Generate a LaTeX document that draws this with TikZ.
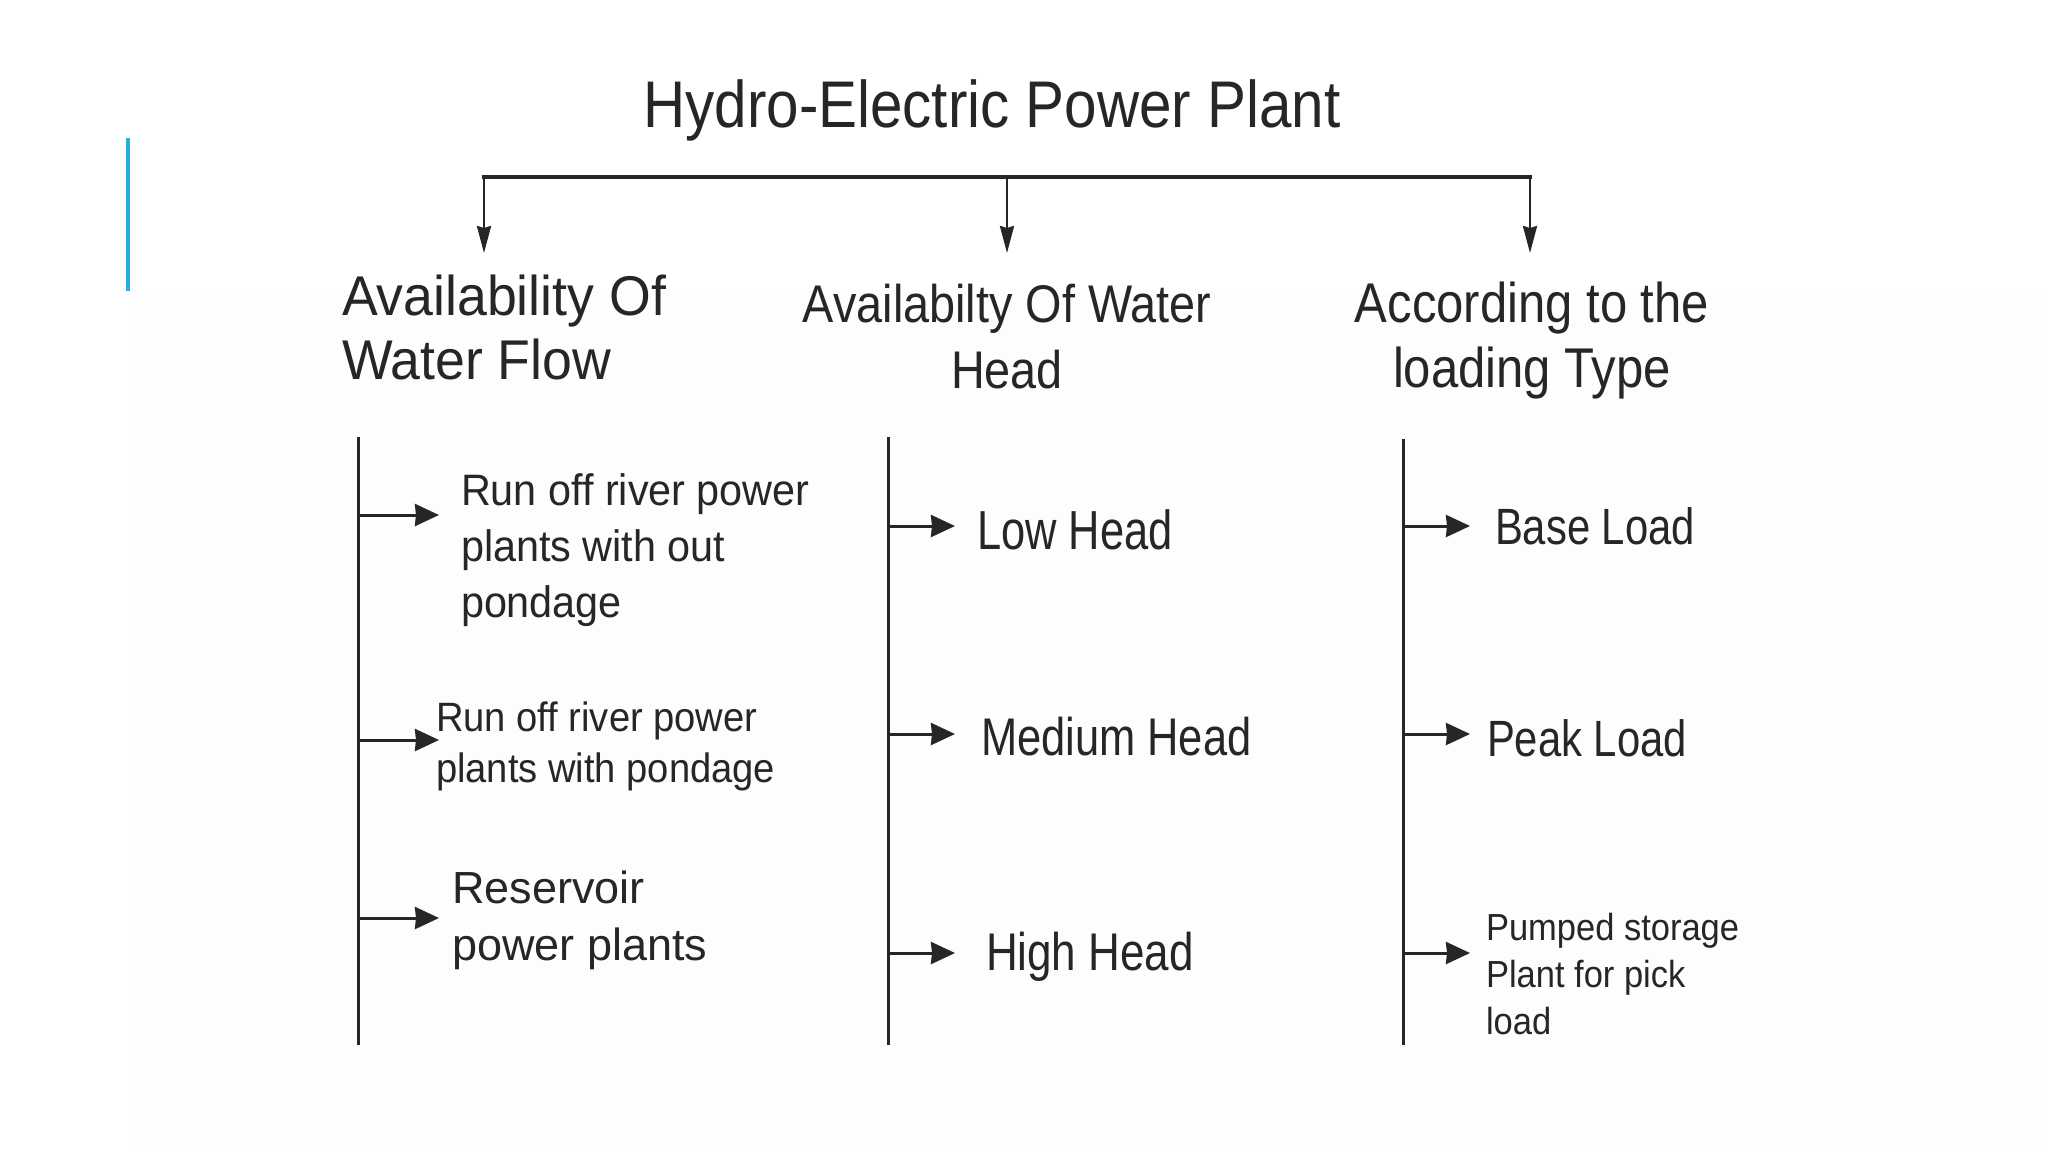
\documentclass[tikz,border=0pt]{standalone}
\usepackage{fontspec}
\setmainfont{Liberation Sans}
\usepackage{graphicx}
\usetikzlibrary{arrows.meta}
\definecolor{ink}{HTML}{262626}
\definecolor{accent}{RGB}{41,171,226}
\definecolor{bgpane}{RGB}{253,253,253}
% size, xscale, leading, alignment, text
\newcommand{\txt}[5]{\scalebox{#2}[1]{\fontsize{#1}{#3}\selectfont\begin{tabular}[t]{@{}#4@{}}#5\end{tabular}}}
\begin{document}
\begin{tikzpicture}[x=1pt,y=-1pt,
  lbl/.style={inner sep=0pt, outer sep=0pt, text=ink},
  trunk/.style={draw=ink, line width=3pt},
  bar/.style={draw=ink, line width=4pt, line cap=rect},
  downarr/.style={draw=ink, line width=2.5pt, -{Stealth[length=27pt,width=14pt,inset=2pt]}},
  sidearr/.style={draw=ink, line width=3pt, -{Stealth[length=24pt,width=22pt,inset=1pt]}}]
\useasboundingbox (0,0) rectangle (2048,1152);
\fill[white] (0,0) rectangle (2048,1152);
\fill[bgpane] (128,290) rectangle (2048,1152);
\draw[accent, line width=3.3pt] (128,138) -- (128,291);

% title and top bar
\node[lbl, anchor=base] (title) at (992,127) {\txt{66}{0.884}{79}{c}{Hydro-Electric Power Plant}};
\coordinate (bl) at (484,177);
\coordinate (bm) at (1007,177);
\coordinate (br) at (1530,177);
\coordinate (dl) at (484,253);
\coordinate (dm) at (1007,253);
\coordinate (dr) at (1530,253);
\draw[bar] (bl) -- (br);
\draw[downarr] (bl) -- (dl);
\draw[downarr] (bm) -- (dm);
\draw[downarr] (br) -- (dr);

% categories
\node[lbl, anchor=base west] (catA) at (342,315) {\txt{56}{0.958}{64}{l}{Availability Of\\Water Flow}};
\node[lbl, anchor=base] (catB) at (1007,322) {\txt{53}{0.883}{66}{c}{Availabilty Of Water\\Head}};
\node[lbl, anchor=base] (catC) at (1532,322) {\txt{56}{0.875}{65}{c}{According to the\\loading Type}};

% trunks
\coordinate (tA1) at (358,437);
\coordinate (tA2) at (358,1045);
\coordinate (tB1) at (888,437);
\coordinate (tB2) at (888,1045);
\coordinate (tC1) at (1403,439);
\coordinate (tC2) at (1403,1045);
\draw[trunk] (tA1) -- (tA2);
\draw[trunk] (tB1) -- (tB2);
\draw[trunk] (tC1) -- (tC2);

% items: left column
\node[lbl, anchor=base west] (a1) at (461,505) {\txt{44}{0.94}{56}{l}{Run off river power\\plants with out\\pondage}};
\node[lbl, anchor=base west] (a2) at (436,731) {\txt{41}{0.93}{51}{l}{Run off river power\\plants with pondage}};
\node[lbl, anchor=base west] (a3) at (452,903) {\txt{45}{1.0}{57}{l}{Reservoir\\power plants}};
% middle column
\node[lbl, anchor=base west] (b1) at (977,549) {\txt{55}{0.79}{60}{l}{Low Head}};
\node[lbl, anchor=base west] (b2) at (981,755) {\txt{53}{0.82}{60}{l}{Medium Head}};
\node[lbl, anchor=base west] (b3) at (986,970) {\txt{53}{0.83}{60}{l}{High Head}};
% right column
\node[lbl, anchor=base west] (c1) at (1495,544) {\txt{51}{0.82}{60}{l}{Base Load}};
\node[lbl, anchor=base west] (c2) at (1487,756) {\txt{51}{0.82}{60}{l}{Peak Load}};
\node[lbl, anchor=base west] (c3) at (1486,940) {\txt{37.7}{0.915}{47}{l}{Pumped storage\\Plant for pick\\load}};

% side arrows
\coordinate (sa1) at (358,515); \coordinate (ea1) at (439,515);
\coordinate (sa2) at (358,740); \coordinate (ea2) at (439,740);
\coordinate (sa3) at (358,918); \coordinate (ea3) at (439,918);
\coordinate (sb1) at (888,526); \coordinate (eb1) at (955,526);
\coordinate (sb2) at (888,734); \coordinate (eb2) at (955,734);
\coordinate (sb3) at (888,953); \coordinate (eb3) at (955,953);
\coordinate (sc1) at (1403,526); \coordinate (ec1) at (1470,526);
\coordinate (sc2) at (1403,734); \coordinate (ec2) at (1470,734);
\coordinate (sc3) at (1403,953); \coordinate (ec3) at (1470,953);
\foreach \s/\e in {sa1/ea1,sa2/ea2,sa3/ea3,sb1/eb1,sb2/eb2,sb3/eb3,sc1/ec1,sc2/ec2,sc3/ec3}
  \draw[sidearr] (\s) -- (\e);
\end{tikzpicture}
\end{document}
